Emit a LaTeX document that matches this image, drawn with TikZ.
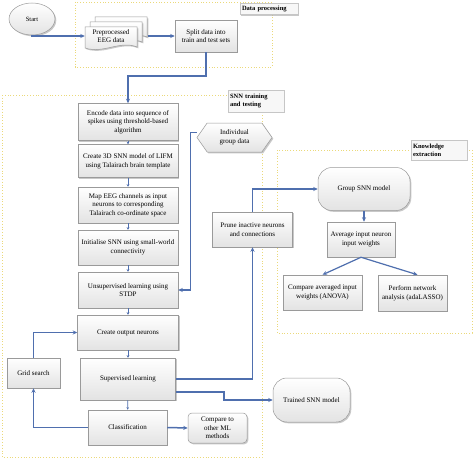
\documentclass[tikz,border=0pt]{standalone}
\usepackage{fontspec}
\setmainfont{Liberation Serif}
\usetikzlibrary{shapes.geometric,shapes.symbols,shadows,arrows.meta,calc}
\definecolor{ln}{HTML}{4F6FAE}
\definecolor{frm}{HTML}{EBD97A}
\definecolor{bord}{HTML}{9A9A9A}
\begin{document}
\begin{tikzpicture}[x=1pt,y=-1pt,font=\fontsize{7}{8.6}\selectfont,
  shad/.style={drop shadow={shadow xshift=1.3pt,shadow yshift=-1.3pt,fill=gray!60,opacity=0.7}},
  box/.style={draw=bord,line width=0.5pt,top color=white,bottom color=gray!22,shad,align=center,inner sep=1pt},
  rbox/.style={box,rounded corners=4pt},
  flow/.style={ln,line width=1.5pt,-{Stealth[length=4.5pt,width=4pt]}},
  flowline/.style={ln,line width=1.5pt},
  sm/.style={ln,line width=0.7pt,-{Stealth[length=2.5pt,width=2.5pt]}},
  frame/.style={frm,dotted,line width=0.8pt},
  lbl/.style={draw=gray!45,fill=gray!6,shad,font=\bfseries\fontsize{6.5}{7.8}\selectfont,align=left,inner sep=2pt,text width=52pt},
  docsh/.style={draw=bord,line width=0.5pt,top color=white,bottom color=gray!22,shad}
]
\useasboundingbox (0,0) rectangle (474,460);
\fill[white] (0,0) rectangle (474,460);

% frames
\draw[frame] (75,2) rectangle (272,67);
\draw[frame] (2,95) rectangle (262,457);
\draw[frame] (277,150) rectangle (472,333);

% labels
\node[lbl,minimum height=11pt,text width=54pt] (lbldp) at (269,9) {Data processing};
\node[lbl,minimum height=22pt] (lblsnn) at (256,101) {SNN training\\and testing};
\node[lbl,minimum height=20pt] (lblke) at (439,150) {Knowledge\\extraction};

% start
\node[ellipse,box,minimum width=46pt,minimum height=32pt,font=\fontsize{6.5}{8}\selectfont] (start) at (32,19) {Start};

% document stack
\foreach \dx in {10,5,0}{
  \path[docsh] (85+\dx,27-\dx) -- (137+\dx,27-\dx) -- (137+\dx,47-\dx)
    .. controls (120+\dx,40-\dx) and (104+\dx,54-\dx) .. (85+\dx,48-\dx) -- cycle;
}
\node[minimum width=52pt,minimum height=22pt,align=center,inner sep=0pt] (prep) at (111,36) {Preprocessed\\EEG data};

\node[box,minimum width=62pt,minimum height=32pt] (split) at (206,36) {Split data into\\train and test sets};

% left column
\node[box,minimum width=100pt,minimum height=37pt] (encode) at (128,122) {Encode data into sequence of\\spikes using threshold-based\\algorithm};
\node[box,minimum width=100pt,minimum height=33pt] (create) at (128,161) {Create 3D SNN model of LIFM\\using Talairach brain template};
\node[box,minimum width=100pt,minimum height=36pt] (map) at (128,205) {Map EEG channels as input\\neurons to corresponding\\Talairach co-ordinate space};
\node[box,minimum width=100pt,minimum height=35pt] (init) at (128,247.5) {Initialise SNN using small-world\\connectivity};
\node[box,minimum width=100pt,minimum height=36pt] (unsup) at (128,290) {Unsupervised learning using\\STDP};
\node[box,minimum width=101pt,minimum height=35pt] (cout) at (128,332.5) {Create output neurons};
\node[box,minimum width=95pt,minimum height=42pt] (sup) at (128,379) {Supervised learning};
\node[box,minimum width=79pt,minimum height=35pt] (class) at (127.5,427.5) {Classification};
\node[box,minimum width=53pt,minimum height=30pt] (grid) at (33.5,373) {Grid search};
\node[rbox,minimum width=59pt,minimum height=30pt] (cmp) at (217.5,428) {Compare to\\other ML\\methods};
\node[box,rounded corners=14pt,minimum width=77pt,minimum height=44pt] (trained) at (311.5,400) {Trained SNN model};

% middle / right
\node[box,shape=signal,signal to=west and east,signal pointer angle=110,minimum width=75pt,minimum height=29pt] (indiv) at (234.5,137.5) {Individual\\group data};
\node[box,minimum width=80pt,minimum height=35pt] (prune) at (252.5,229.5) {Prune inactive neurons\\and connections};
\node[box,rounded corners=14pt,minimum width=92pt,minimum height=43pt] (group) at (364,189) {Group SNN model};
\node[box,minimum width=68pt,minimum height=35pt] (avg) at (361,239.5) {Average input neuron\\input weights};
\node[box,minimum width=79pt,minimum height=35pt] (anova) at (322.5,292.5) {Compare averaged input\\weights (ANOVA)};
\node[box,minimum width=69pt,minimum height=36pt] (ada) at (412.5,293) {Perform network\\analysis (adaLASSO)};

% connectors
\draw[flow] (start.south) |- (prep.west);
\draw[flow] ([xshift=11pt]prep.east) -- (split.west);
\coordinate (j1) at (206,76);
\draw[flow] (split.south) -- (j1) -| (encode.north);

\draw[sm] (encode) -- (create);
\draw[sm] (create) -- (map);
\draw[sm] (map) -- (init);
\draw[sm] (init) -- (unsup);
\draw[sm] (unsup) -- (cout);
\draw[sm] (cout) -- (sup);
\draw[sm] (sup) -- (class);

\draw[flow] ([yshift=5pt]indiv.west) -- ++(-6,0) |- (unsup.east);
\draw[flow] (sup.east) -| (prune.south);
\draw[flow] (prune.north) |- (group.west);
\draw[flow] (group.south) -- (group.south |- avg.north);
\draw[flow,line width=1.2pt] (avg.south) -- (anova.north);
\draw[flow,line width=1.2pt] (avg.south) -- ([xshift=5pt]ada.north);

\draw[flow] (grid.north) |- (cout.west);
\draw[flow] (class.west) -| (grid.south);
\coordinate (s2) at ($(sup.east)+(0,13)$);
\draw[flow] (s2) -- ++(48,0) |- (trained.west);
\draw[flow] (class.east) -- (cmp.west);
\end{tikzpicture}
\end{document}
